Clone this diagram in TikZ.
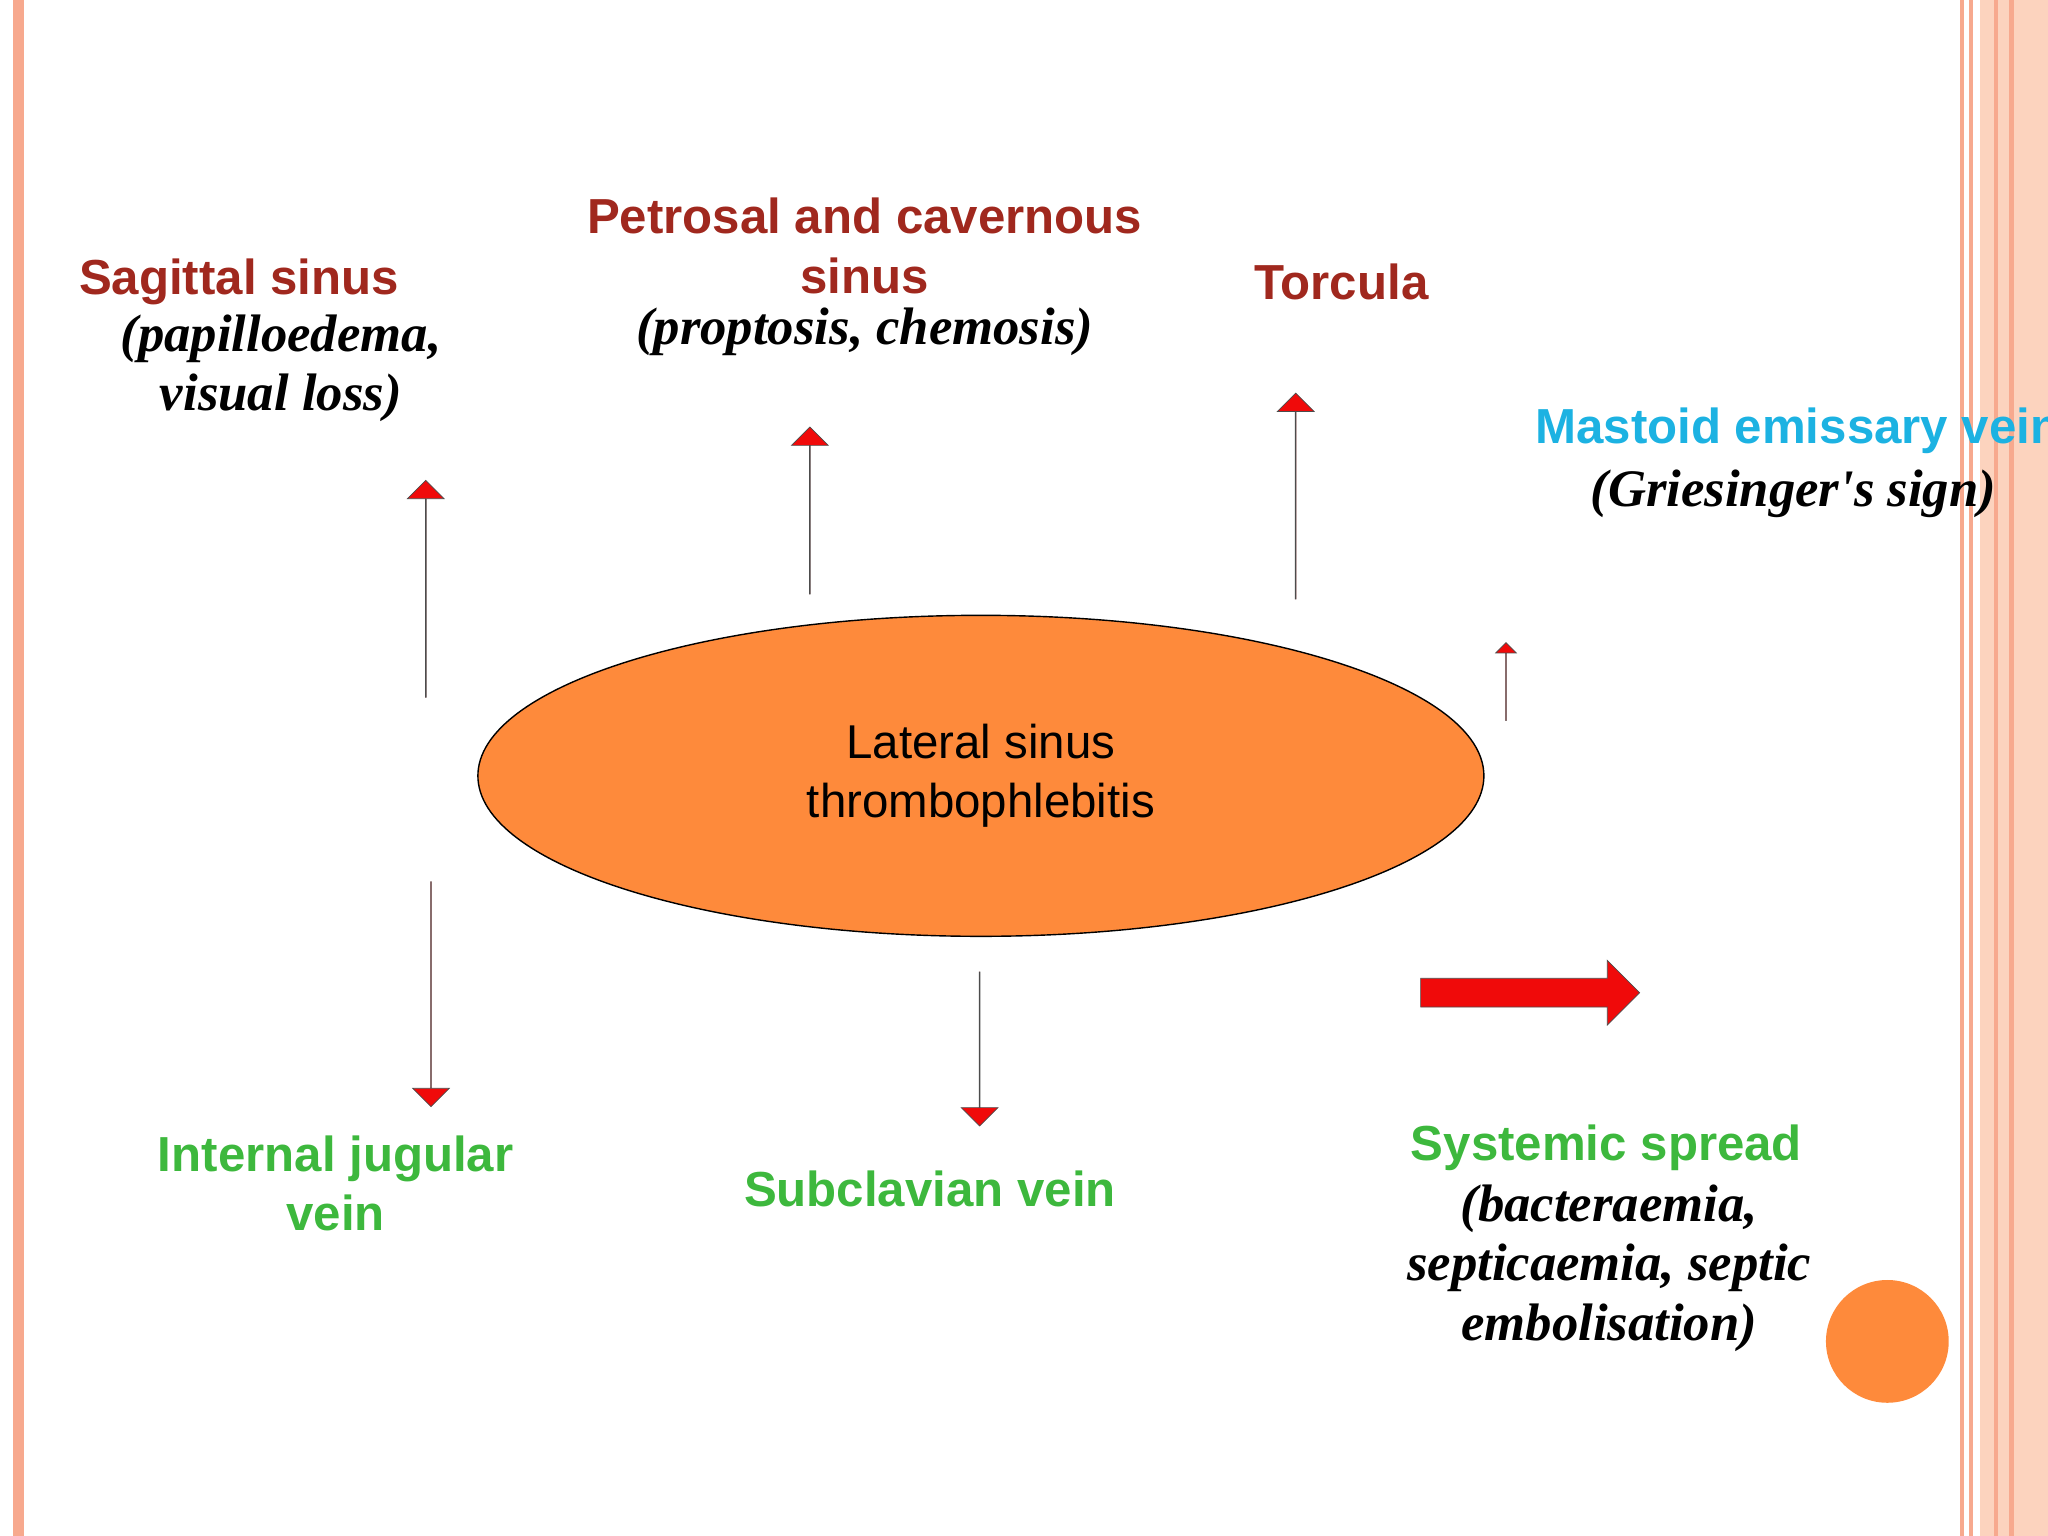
\documentclass[tikz,border=0pt]{standalone}
\usepackage{fontspec}
\setmainfont{Liberation Sans}
\newfontfamily\handfont{Liberation Serif}
\usetikzlibrary{shapes.arrows,shapes.geometric}
\definecolor{salmon}{HTML}{F7A98E}
\definecolor{peach}{HTML}{FCD3BE}
\definecolor{blobfill}{HTML}{FE8A3B}
\definecolor{arrowred}{HTML}{F00A0A}
\definecolor{titlered}{HTML}{A0281E}
\definecolor{titlegreen}{HTML}{3DB83D}
\definecolor{titlecyan}{HTML}{1CB2E2}
\begin{document}
\begin{tikzpicture}[x=0.01306cm,y=-0.01306cm,
        blk/.style={single arrow,draw=black!70,fill=arrowred,very thin,inner xsep=0pt,inner ysep=0.14cm,
          single arrow head extend=0.18cm,single arrow head indent=0pt},
        head/.style={font=\fontsize{14}{17}\selectfont\bfseries,align=center},
        note/.style={font=\handfont\fontsize{15}{17}\selectfont\bfseries\itshape,align=center}]
        \useasboundingbox (0,0) rectangle (1568,1176);
        \clip (0,0) rectangle (1568,1176);
        % frame
        \fill[salmon] (10,0) rectangle (18,1176);
        \fill[peach] (1516,0) rectangle (1568,1176);
        \draw[salmon,line width=1.2pt] (1502,0) -- (1502,1176) (1509,0) -- (1509,1176)
          (1528,0) -- (1528,1176) (1540,0) -- (1540,1176);
        \fill[blobfill] (1445,1027) circle (47);
        % centre
        \node[ellipse,draw,thin,fill=blobfill,minimum width=10.06cm,minimum height=3.21cm,
          align=center,font=\fontsize{13.5}{17}\selectfont] (sinus) at (751,594) {Lateral sinus\\thrombophlebitis};
        % arrows
        \node[blk,minimum height=2.17cm,shape border rotate=133] (a1) at (326,451) {};
        \node[blk,minimum height=1.67cm,shape border rotate=90] (a2) at (620,391) {};
        \node[blk,minimum height=2.06cm,shape border rotate=65.7] (a3) at (992,380) {};
        \node[blk,minimum height=0.78cm,shape border rotate=48,inner ysep=0.09cm,
          single arrow head extend=0.1cm] (a4) at (1153,522) {};
        \node[blk,minimum height=2.25cm,shape border rotate=227.6] (a5) at (330,761) {};
        \node[blk,minimum height=1.54cm,shape border rotate=270] (a6) at (750,803) {};
        \node[blk,minimum height=2.19cm,shape border rotate=-45.7] (a7) at (1166,760) {};
        % labels
        \node[head,titlered] (sag) at (183,216) {Sagittal sinus};
        \node[note] (sagn) at (215,282) {(papilloedema,\\visual loss)};
        \node[head,titlered] (pet) at (662,188) {Petrosal and cavernous\\sinus};
        \node[note] (petn) at (662,254) {(proptosis, chemosis)};
        \node[head,titlered] (tor) at (1027,216) {Torcula};
        \node[head,titlecyan,anchor=west] (mas) at (1166,330) {Mastoid emissary vein};
        \node[note] (masn) at (1373,378) {(Griesinger's sign)};
        \node[head,titlegreen] (ijv) at (257,906) {Internal jugular\\vein};
        \node[head,titlegreen] (sub) at (712,910) {Subclavian vein};
        \node[head,titlegreen] (sys) at (1230,879) {Systemic spread};
        \node[note] (sysn) at (1232,971) {(bacteraemia,\\septicaemia, septic\\embolisation)};
\end{tikzpicture}
\end{document}
